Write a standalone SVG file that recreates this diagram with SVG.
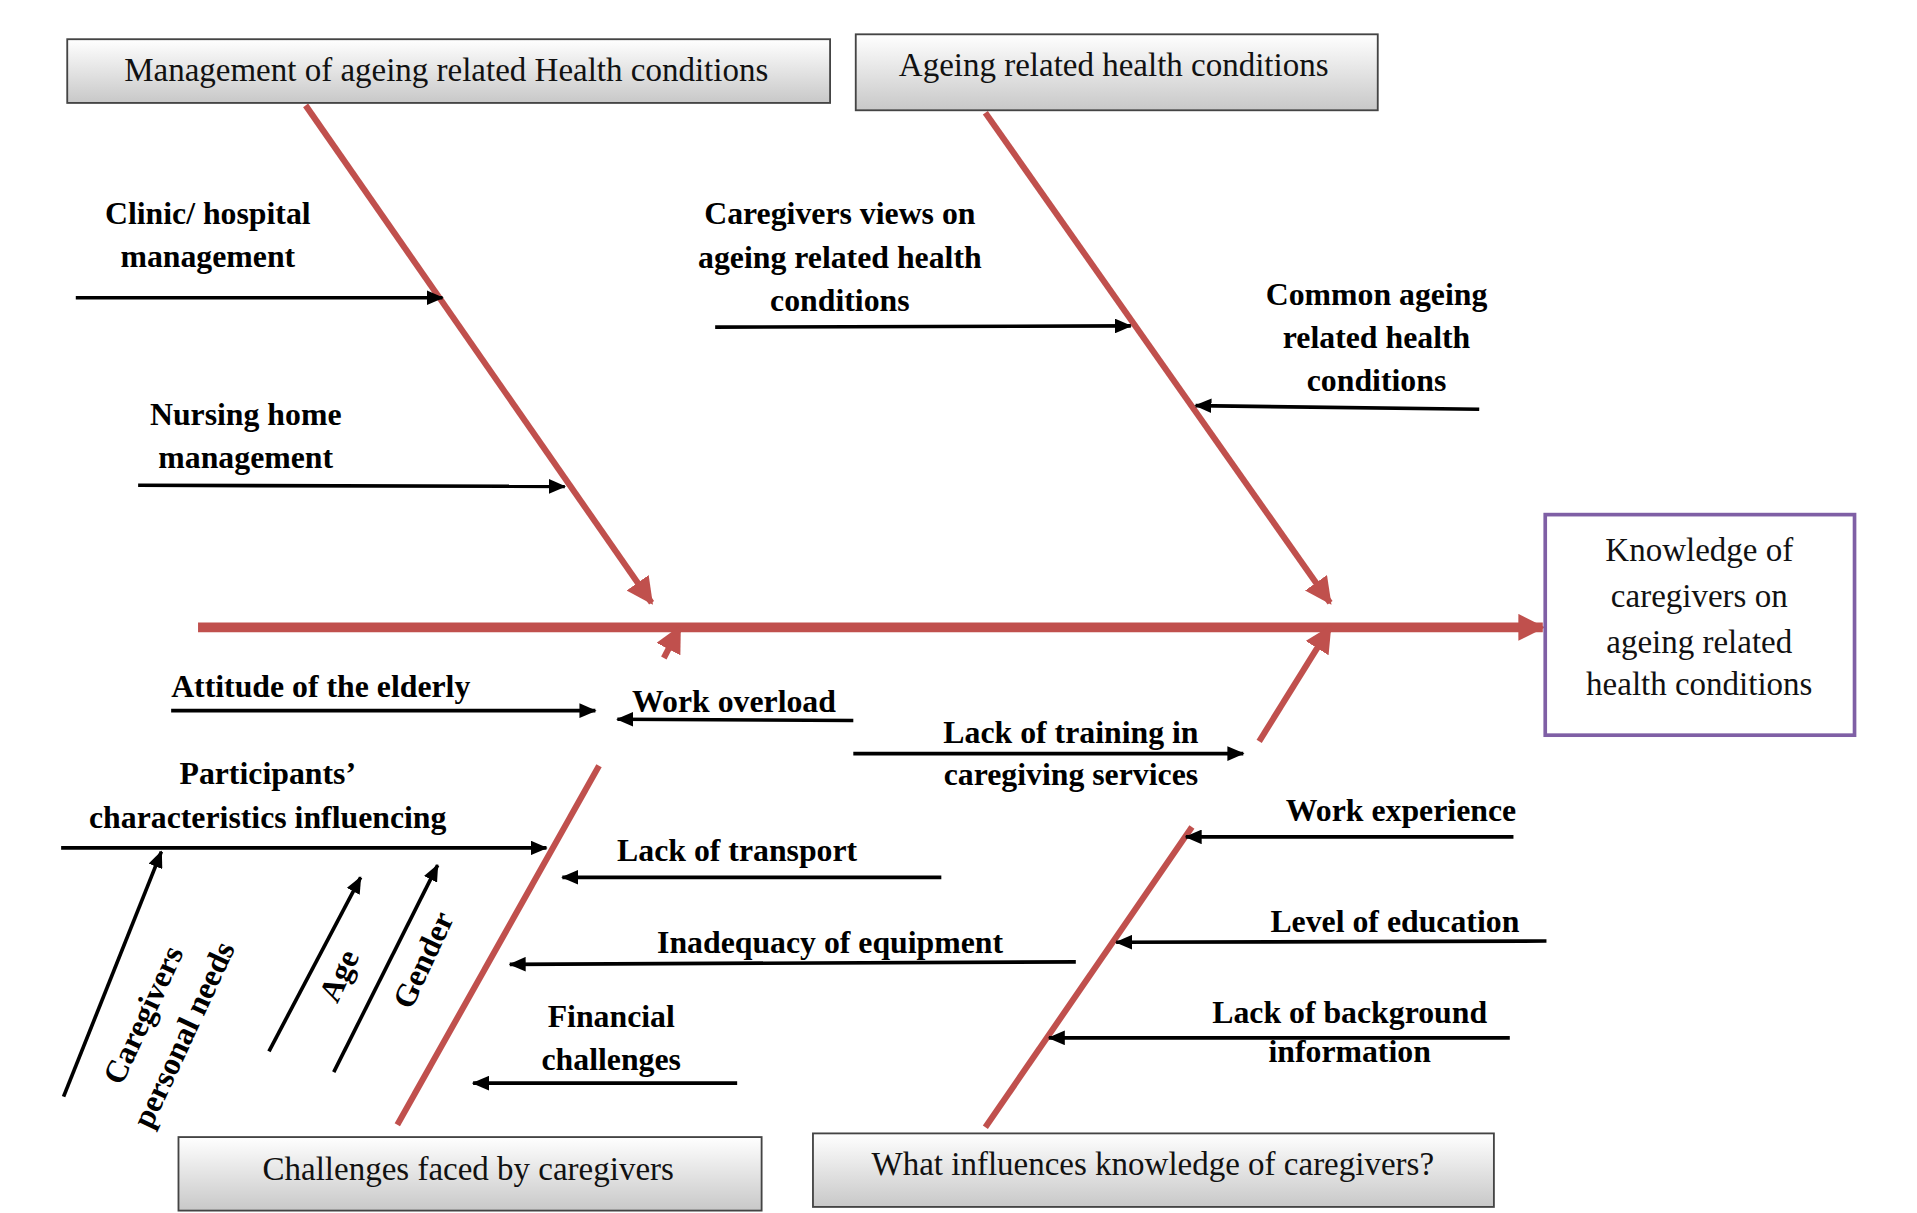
<svg xmlns="http://www.w3.org/2000/svg" width="1917" height="1213" viewBox="0 0 1917 1213">
<defs>
<linearGradient id="g" x1="0" y1="0" x2="0" y2="1"><stop offset="0" stop-color="#ffffff"/><stop offset="1" stop-color="#c8c8c8"/></linearGradient>
<marker id="ar" markerWidth="22" markerHeight="22" refX="20" refY="11" orient="auto" markerUnits="userSpaceOnUse"><path d="M0,0 L22,11 L0,22 Z" fill="#c0504d"/></marker>
<marker id="ab2" markerWidth="14" markerHeight="12" refX="13" refY="6" orient="auto" markerUnits="userSpaceOnUse"><path d="M0,0 L14,6 L0,12 Z" fill="#000"/></marker>
</defs>
<style>
.box{fill:url(#g);stroke:#444;stroke-width:1.5}
.bt{font-family:"Liberation Serif",serif;font-size:27px;text-anchor:middle;fill:#111}
.t{font-family:"Liberation Serif",serif;font-size:26px;font-weight:bold;fill:#000}
.c{text-anchor:middle}
.bone{stroke:#c0504d;stroke-width:5;fill:none}
.arr{stroke:#000;stroke-width:3;fill:none;marker-end:url(#ab2)}
</style>
<rect width="1917" height="1213" fill="#fff"/>
<g transform="scale(1.2225 1.2253)">
<g id="connectors">
<line x1="162" y1="512" x2="1262" y2="512" stroke="#c0504d" stroke-width="8" marker-end="url(#ar)"/>
<line class="bone" x1="250" y1="86" x2="533" y2="492" marker-end="url(#ar)"/>
<line class="bone" x1="806" y1="92" x2="1088" y2="492" marker-end="url(#ar)"/>
<line class="bone" x1="325" y1="918" x2="490" y2="625"/>
<line class="bone" x1="543" y1="537" x2="556" y2="512" marker-end="url(#ar)"/>
<line class="bone" x1="806" y1="920" x2="975" y2="675"/>
<line class="bone" x1="1030" y1="605" x2="1088" y2="512" marker-end="url(#ar)"/>
<line class="arr" x1="62" y1="243" x2="362" y2="243"/>
<line class="arr" x1="113" y1="396" x2="462" y2="397"/>
<line class="arr" x1="585" y1="267" x2="925" y2="266"/>
<line class="arr" x1="1210" y1="334" x2="978" y2="331"/>
<line class="arr" x1="140" y1="580" x2="487" y2="580"/>
<line class="arr" x1="698" y1="588" x2="505" y2="587"/>
<line class="arr" x1="698" y1="615" x2="1017" y2="615"/>
<line class="arr" x1="50" y1="692" x2="447" y2="692"/>
<line class="arr" x1="770" y1="716" x2="460" y2="716"/>
<line class="arr" x1="880" y1="785" x2="417" y2="787"/>
<line class="arr" x1="603" y1="884" x2="387" y2="884"/>
<line class="arr" x1="1238" y1="683" x2="970" y2="683"/>
<line class="arr" x1="1265" y1="768" x2="913" y2="769"/>
<line class="arr" x1="1235" y1="847" x2="858" y2="847"/>
<line class="arr" x1="52" y1="895" x2="132" y2="695"/>
<line class="arr" x1="220" y1="858" x2="295" y2="716"/>
<line class="arr" x1="273" y1="875" x2="358" y2="706"/>
</g>
<g id="n1"><rect class="box" x="55" y="32" width="624" height="52"/><text class="bt" x="365" y="66">Management of ageing related Health conditions</text></g>
<g id="n2"><rect class="box" x="700" y="28" width="427" height="62"/><text class="bt" x="911" y="62">Ageing related health conditions</text></g>
<g id="n3"><rect class="box" x="146" y="928" width="477" height="60"/><text class="bt" x="383" y="963">Challenges faced by caregivers</text></g>
<g id="n4"><rect class="box" x="665" y="925" width="557" height="60"/><text class="bt" x="943" y="959">What influences knowledge of caregivers?</text></g>
<g id="n5"><rect x="1264" y="420" width="253" height="180" fill="#fff" stroke="#7f5fa5" stroke-width="3"/>
<text class="bt" x="1390" y="458">Knowledge of</text><text class="bt" x="1390" y="495">caregivers on</text><text class="bt" x="1390" y="533">ageing related</text><text class="bt" x="1390" y="567">health conditions</text></g>
<g id="labels">
<text class="t c" x="170" y="183">Clinic/ hospital</text><text class="t c" x="170" y="218">management</text>
<text class="t c" x="201" y="347">Nursing home</text><text class="t c" x="201" y="382">management</text>
<text class="t c" x="687" y="183">Caregivers views on</text><text class="t c" x="687" y="219">ageing related health</text><text class="t c" x="687" y="254">conditions</text>
<text class="t c" x="1126" y="249">Common ageing</text><text class="t c" x="1126" y="284">related health</text><text class="t c" x="1126" y="319">conditions</text>
<text class="t" x="140" y="569">Attitude of the elderly</text>
<text class="t" x="517" y="581">Work overload</text>
<text class="t c" x="876" y="606">Lack of training in</text><text class="t c" x="876" y="641">caregiving services</text>
<text class="t c" x="219" y="640">Participants’</text><text class="t c" x="219" y="676">characteristics influencing</text>
<text class="t c" x="603" y="703">Lack of transport</text>
<text class="t c" x="679" y="778">Inadequacy of equipment</text>
<text class="t c" x="500" y="838">Financial</text><text class="t c" x="500" y="873">challenges</text>
<text class="t c" x="1146" y="670">Work experience</text>
<text class="t c" x="1141" y="761">Level of education</text>
<text class="t c" x="1104" y="835">Lack of background</text><text class="t c" x="1104" y="867">information</text>
<text class="t c" transform="translate(285,800) rotate(-65)">Age</text>
<text class="t c" transform="translate(354,787) rotate(-65)">Gender</text>
<text class="t c" transform="translate(125,832) rotate(-65)">Caregivers</text>
<text class="t c" transform="translate(158,848) rotate(-65)">personal needs</text>
</g>
</g>
</svg>
